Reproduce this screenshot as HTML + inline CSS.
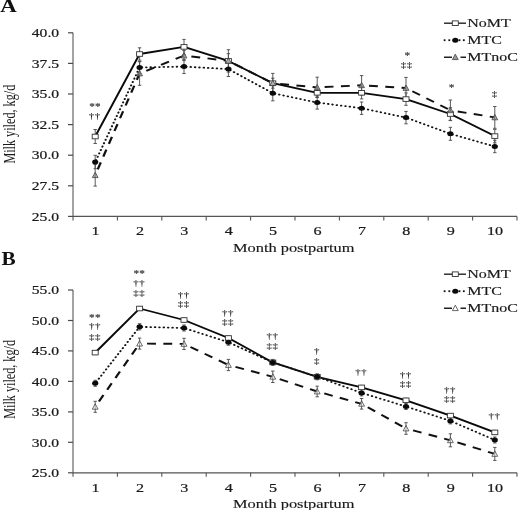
<!DOCTYPE html><html><head><meta charset="utf-8"><style>html,body{margin:0;padding:0;background:#fff;width:519px;height:510px;overflow:hidden;position:relative}</style></head><body><svg width="519" height="510" viewBox="0 0 519 510" style="filter:blur(0.35px);position:absolute;left:0;top:0;font-family:'Liberation Serif', serif">
<rect width="519" height="510" fill="#fff"/>
<text transform="translate(0.30,11.70) scale(1.25,1)" font-size="18.2" text-anchor="start" font-weight="bold" fill="#111">A</text>
<text transform="translate(15.0,124.2) scale(1.3,1) rotate(-90)" font-size="12.2" text-anchor="middle" fill="#1a1a1a">Milk yiled, kg/d</text>
<line x1="73.0" y1="32.8" x2="73.0" y2="216.4" stroke="#858585" stroke-width="1.5"/>
<line x1="68.0" y1="216.4" x2="73.0" y2="216.4" stroke="#4a4a4a" stroke-width="1.2"/>
<text transform="translate(59.10,220.60) scale(1.22,1)" font-size="12.8" text-anchor="end" font-weight="normal" fill="#1a1a1a" stroke="#1a1a1a" stroke-width="0.22">25.0</text>
<line x1="68.0" y1="185.8" x2="73.0" y2="185.8" stroke="#4a4a4a" stroke-width="1.2"/>
<text transform="translate(59.10,190.00) scale(1.22,1)" font-size="12.8" text-anchor="end" font-weight="normal" fill="#1a1a1a" stroke="#1a1a1a" stroke-width="0.22">27.5</text>
<line x1="68.0" y1="155.2" x2="73.0" y2="155.2" stroke="#4a4a4a" stroke-width="1.2"/>
<text transform="translate(59.10,159.40) scale(1.22,1)" font-size="12.8" text-anchor="end" font-weight="normal" fill="#1a1a1a" stroke="#1a1a1a" stroke-width="0.22">30.0</text>
<line x1="68.0" y1="124.6" x2="73.0" y2="124.6" stroke="#4a4a4a" stroke-width="1.2"/>
<text transform="translate(59.10,128.80) scale(1.22,1)" font-size="12.8" text-anchor="end" font-weight="normal" fill="#1a1a1a" stroke="#1a1a1a" stroke-width="0.22">32.5</text>
<line x1="68.0" y1="94.0" x2="73.0" y2="94.0" stroke="#4a4a4a" stroke-width="1.2"/>
<text transform="translate(59.10,98.20) scale(1.22,1)" font-size="12.8" text-anchor="end" font-weight="normal" fill="#1a1a1a" stroke="#1a1a1a" stroke-width="0.22">35.0</text>
<line x1="68.0" y1="63.4" x2="73.0" y2="63.4" stroke="#4a4a4a" stroke-width="1.2"/>
<text transform="translate(59.10,67.60) scale(1.22,1)" font-size="12.8" text-anchor="end" font-weight="normal" fill="#1a1a1a" stroke="#1a1a1a" stroke-width="0.22">37.5</text>
<line x1="68.0" y1="32.8" x2="73.0" y2="32.8" stroke="#4a4a4a" stroke-width="1.2"/>
<text transform="translate(59.10,37.00) scale(1.22,1)" font-size="12.8" text-anchor="end" font-weight="normal" fill="#1a1a1a" stroke="#1a1a1a" stroke-width="0.22">40.0</text>
<line x1="73.0" y1="216.4" x2="517.0" y2="216.4" stroke="#555" stroke-width="1.2"/>
<line x1="73.0" y1="216.4" x2="73.0" y2="220.4" stroke="#555" stroke-width="1.1"/>
<line x1="117.4" y1="216.4" x2="117.4" y2="220.4" stroke="#555" stroke-width="1.1"/>
<line x1="161.8" y1="216.4" x2="161.8" y2="220.4" stroke="#555" stroke-width="1.1"/>
<line x1="206.2" y1="216.4" x2="206.2" y2="220.4" stroke="#555" stroke-width="1.1"/>
<line x1="250.6" y1="216.4" x2="250.6" y2="220.4" stroke="#555" stroke-width="1.1"/>
<line x1="295.0" y1="216.4" x2="295.0" y2="220.4" stroke="#555" stroke-width="1.1"/>
<line x1="339.4" y1="216.4" x2="339.4" y2="220.4" stroke="#555" stroke-width="1.1"/>
<line x1="383.8" y1="216.4" x2="383.8" y2="220.4" stroke="#555" stroke-width="1.1"/>
<line x1="428.2" y1="216.4" x2="428.2" y2="220.4" stroke="#555" stroke-width="1.1"/>
<line x1="472.6" y1="216.4" x2="472.6" y2="220.4" stroke="#555" stroke-width="1.1"/>
<line x1="517.0" y1="216.4" x2="517.0" y2="220.4" stroke="#555" stroke-width="1.1"/>
<text transform="translate(95.50,235.40) scale(1.25,1)" font-size="12.9" text-anchor="middle" font-weight="normal" fill="#1a1a1a" stroke="#1a1a1a" stroke-width="0.22">1</text>
<text transform="translate(139.90,235.40) scale(1.25,1)" font-size="12.9" text-anchor="middle" font-weight="normal" fill="#1a1a1a" stroke="#1a1a1a" stroke-width="0.22">2</text>
<text transform="translate(184.30,235.40) scale(1.25,1)" font-size="12.9" text-anchor="middle" font-weight="normal" fill="#1a1a1a" stroke="#1a1a1a" stroke-width="0.22">3</text>
<text transform="translate(228.70,235.40) scale(1.25,1)" font-size="12.9" text-anchor="middle" font-weight="normal" fill="#1a1a1a" stroke="#1a1a1a" stroke-width="0.22">4</text>
<text transform="translate(273.10,235.40) scale(1.25,1)" font-size="12.9" text-anchor="middle" font-weight="normal" fill="#1a1a1a" stroke="#1a1a1a" stroke-width="0.22">5</text>
<text transform="translate(317.50,235.40) scale(1.25,1)" font-size="12.9" text-anchor="middle" font-weight="normal" fill="#1a1a1a" stroke="#1a1a1a" stroke-width="0.22">6</text>
<text transform="translate(361.90,235.40) scale(1.25,1)" font-size="12.9" text-anchor="middle" font-weight="normal" fill="#1a1a1a" stroke="#1a1a1a" stroke-width="0.22">7</text>
<text transform="translate(406.30,235.40) scale(1.25,1)" font-size="12.9" text-anchor="middle" font-weight="normal" fill="#1a1a1a" stroke="#1a1a1a" stroke-width="0.22">8</text>
<text transform="translate(450.70,235.40) scale(1.25,1)" font-size="12.9" text-anchor="middle" font-weight="normal" fill="#1a1a1a" stroke="#1a1a1a" stroke-width="0.22">9</text>
<text transform="translate(495.10,235.40) scale(1.25,1)" font-size="12.9" text-anchor="middle" font-weight="normal" fill="#1a1a1a" stroke="#1a1a1a" stroke-width="0.22">10</text>
<text transform="translate(293.70,251.90) scale(1.3,1)" font-size="12.6" text-anchor="middle" font-weight="normal" fill="#1a1a1a" stroke="#1a1a1a" stroke-width="0.15">Month postpartum</text>
<g transform="scale(1.2,1)">
<path d="M79.33,136.5 L116.33,54.0 L153.33,46.9 L190.33,60.9 L227.33,83.2 L264.33,92.8 L301.33,92.8 L338.33,99.1 L375.33,114.0 L412.33,136.1" fill="none" stroke="#0a0a0a" stroke-width="1.8" stroke-linejoin="round"/>
</g>
<g transform="scale(1.2,1)">
<path d="M79.33,162.0 L116.33,67.4" fill="none" stroke="#141414" stroke-width="1.8" stroke-dasharray="0.3 3.35" stroke-dashoffset="-1.8" stroke-linecap="round"/><path d="M116.33,67.4 L153.33,66.6" fill="none" stroke="#141414" stroke-width="1.8" stroke-dasharray="0.3 3.35" stroke-dashoffset="-1.8" stroke-linecap="round"/><path d="M153.33,66.6 L190.33,69.1" fill="none" stroke="#141414" stroke-width="1.8" stroke-dasharray="0.3 3.35" stroke-dashoffset="-1.8" stroke-linecap="round"/><path d="M190.33,69.1 L227.33,93.2" fill="none" stroke="#141414" stroke-width="1.8" stroke-dasharray="0.3 3.35" stroke-dashoffset="-1.8" stroke-linecap="round"/><path d="M227.33,93.2 L264.33,102.6" fill="none" stroke="#141414" stroke-width="1.8" stroke-dasharray="0.3 3.35" stroke-dashoffset="-1.8" stroke-linecap="round"/><path d="M264.33,102.6 L301.33,108.2" fill="none" stroke="#141414" stroke-width="1.8" stroke-dasharray="0.3 3.35" stroke-dashoffset="-1.8" stroke-linecap="round"/><path d="M301.33,108.2 L338.33,117.6" fill="none" stroke="#141414" stroke-width="1.8" stroke-dasharray="0.3 3.35" stroke-dashoffset="-1.8" stroke-linecap="round"/><path d="M338.33,117.6 L375.33,133.8" fill="none" stroke="#141414" stroke-width="1.8" stroke-dasharray="0.3 3.35" stroke-dashoffset="-1.8" stroke-linecap="round"/><path d="M375.33,133.8 L412.33,146.5" fill="none" stroke="#141414" stroke-width="1.8" stroke-dasharray="0.3 3.35" stroke-dashoffset="-1.8" stroke-linecap="round"/>
</g>
<g transform="scale(1.2,1)">
<path d="M79.33,175.2 L116.33,73.5" fill="none" stroke="#111" stroke-width="1.9" stroke-dasharray="7.4 6.2" stroke-dashoffset="7.4"/><path d="M116.33,73.5 L153.33,55.6" fill="none" stroke="#111" stroke-width="1.9" stroke-dasharray="7.4 6.2" stroke-dashoffset="7.4"/><path d="M153.33,55.6 L190.33,60.9" fill="none" stroke="#111" stroke-width="1.9" stroke-dasharray="7.4 6.2" stroke-dashoffset="7.4"/><path d="M190.33,60.9 L227.33,83.2" fill="none" stroke="#111" stroke-width="1.9" stroke-dasharray="7.4 6.2" stroke-dashoffset="7.4"/><path d="M227.33,83.2 L264.33,87.4" fill="none" stroke="#111" stroke-width="1.9" stroke-dasharray="7.4 6.2" stroke-dashoffset="7.4"/><path d="M264.33,87.4 L301.33,85.3" fill="none" stroke="#111" stroke-width="1.9" stroke-dasharray="7.4 6.2" stroke-dashoffset="7.4"/><path d="M301.33,85.3 L338.33,88.0" fill="none" stroke="#111" stroke-width="1.9" stroke-dasharray="7.4 6.2" stroke-dashoffset="7.4"/><path d="M338.33,88.0 L375.33,110.3" fill="none" stroke="#111" stroke-width="1.9" stroke-dasharray="7.4 6.2" stroke-dashoffset="7.4"/><path d="M375.33,110.3 L412.33,117.4" fill="none" stroke="#111" stroke-width="1.9" stroke-dasharray="7.4 6.2" stroke-dashoffset="7.4"/>
</g>
<path d="M95.2,129.5 V143.5 M93.5,129.5 H96.9 M93.5,143.5 H96.9" stroke="#505050" stroke-width="0.95" fill="none"/>
<path d="M139.6,47.8 V60.2 M137.9,47.8 H141.3 M137.9,60.2 H141.3" stroke="#505050" stroke-width="0.95" fill="none"/>
<path d="M184.0,39.4 V54.4 M182.3,39.4 H185.7 M182.3,54.4 H185.7" stroke="#505050" stroke-width="0.95" fill="none"/>
<path d="M228.4,53.7 V68.1 M226.7,53.7 H230.1 M226.7,68.1 H230.1" stroke="#505050" stroke-width="0.95" fill="none"/>
<path d="M272.8,78.2 V88.2 M271.1,78.2 H274.5 M271.1,88.2 H274.5" stroke="#505050" stroke-width="0.95" fill="none"/>
<path d="M317.2,88.2 V97.4 M315.5,88.2 H318.9 M315.5,97.4 H318.9" stroke="#505050" stroke-width="0.95" fill="none"/>
<path d="M361.6,86.7 V98.9 M359.9,86.7 H363.3 M359.9,98.9 H363.3" stroke="#505050" stroke-width="0.95" fill="none"/>
<path d="M406.0,92.9 V105.3 M404.3,92.9 H407.7 M404.3,105.3 H407.7" stroke="#505050" stroke-width="0.95" fill="none"/>
<path d="M450.4,107.7 V120.3 M448.7,107.7 H452.1 M448.7,120.3 H452.1" stroke="#505050" stroke-width="0.95" fill="none"/>
<path d="M494.8,129.4 V142.8 M493.1,129.4 H496.5 M493.1,142.8 H496.5" stroke="#505050" stroke-width="0.95" fill="none"/>
<path d="M95.2,155.3 V168.7 M93.5,155.3 H96.9 M93.5,168.7 H96.9" stroke="#505050" stroke-width="0.95" fill="none"/>
<path d="M139.6,61.4 V73.4 M137.9,61.4 H141.3 M137.9,73.4 H141.3" stroke="#505050" stroke-width="0.95" fill="none"/>
<path d="M184.0,59.6 V73.6 M182.3,59.6 H185.7 M182.3,73.6 H185.7" stroke="#505050" stroke-width="0.95" fill="none"/>
<path d="M228.4,61.7 V76.5 M226.7,61.7 H230.1 M226.7,76.5 H230.1" stroke="#505050" stroke-width="0.95" fill="none"/>
<path d="M272.8,85.6 V100.8 M271.1,85.6 H274.5 M271.1,100.8 H274.5" stroke="#505050" stroke-width="0.95" fill="none"/>
<path d="M317.2,96.1 V109.1 M315.5,96.1 H318.9 M315.5,109.1 H318.9" stroke="#505050" stroke-width="0.95" fill="none"/>
<path d="M361.6,102.0 V114.4 M359.9,102.0 H363.3 M359.9,114.4 H363.3" stroke="#505050" stroke-width="0.95" fill="none"/>
<path d="M406.0,111.4 V123.8 M404.3,111.4 H407.7 M404.3,123.8 H407.7" stroke="#505050" stroke-width="0.95" fill="none"/>
<path d="M450.4,127.3 V140.3 M448.7,127.3 H452.1 M448.7,140.3 H452.1" stroke="#505050" stroke-width="0.95" fill="none"/>
<path d="M494.8,140.3 V152.7 M493.1,140.3 H496.5 M493.1,152.7 H496.5" stroke="#505050" stroke-width="0.95" fill="none"/>
<path d="M95.2,164.3 V186.1 M93.5,164.3 H96.9 M93.5,186.1 H96.9" stroke="#505050" stroke-width="0.95" fill="none"/>
<path d="M139.6,61.7 V85.3 M137.9,61.7 H141.3 M137.9,85.3 H141.3" stroke="#505050" stroke-width="0.95" fill="none"/>
<path d="M184.0,50.6 V60.6 M182.3,50.6 H185.7 M182.3,60.6 H185.7" stroke="#505050" stroke-width="0.95" fill="none"/>
<path d="M228.4,49.7 V72.1 M226.7,49.7 H230.1 M226.7,72.1 H230.1" stroke="#505050" stroke-width="0.95" fill="none"/>
<path d="M272.8,73.4 V93.0 M271.1,73.4 H274.5 M271.1,93.0 H274.5" stroke="#505050" stroke-width="0.95" fill="none"/>
<path d="M317.2,77.2 V97.6 M315.5,77.2 H318.9 M315.5,97.6 H318.9" stroke="#505050" stroke-width="0.95" fill="none"/>
<path d="M361.6,75.6 V95.0 M359.9,75.6 H363.3 M359.9,95.0 H363.3" stroke="#505050" stroke-width="0.95" fill="none"/>
<path d="M406.0,77.4 V98.6 M404.3,77.4 H407.7 M404.3,98.6 H407.7" stroke="#505050" stroke-width="0.95" fill="none"/>
<path d="M450.4,100.0 V120.6 M448.7,100.0 H452.1 M448.7,120.6 H452.1" stroke="#505050" stroke-width="0.95" fill="none"/>
<path d="M494.8,106.5 V128.3 M493.1,106.5 H496.5 M493.1,128.3 H496.5" stroke="#505050" stroke-width="0.95" fill="none"/>
<rect x="92.2" y="134.2" width="6.0" height="4.6" fill="#fff" stroke="#333" stroke-width="0.9"/>
<rect x="136.6" y="51.7" width="6.0" height="4.6" fill="#fff" stroke="#333" stroke-width="0.9"/>
<rect x="181.0" y="44.6" width="6.0" height="4.6" fill="#fff" stroke="#333" stroke-width="0.9"/>
<rect x="225.4" y="58.6" width="6.0" height="4.6" fill="#fff" stroke="#333" stroke-width="0.9"/>
<rect x="269.8" y="80.9" width="6.0" height="4.6" fill="#fff" stroke="#333" stroke-width="0.9"/>
<rect x="314.2" y="90.5" width="6.0" height="4.6" fill="#fff" stroke="#333" stroke-width="0.9"/>
<rect x="358.6" y="90.5" width="6.0" height="4.6" fill="#fff" stroke="#333" stroke-width="0.9"/>
<rect x="403.0" y="96.8" width="6.0" height="4.6" fill="#fff" stroke="#333" stroke-width="0.9"/>
<rect x="447.4" y="111.7" width="6.0" height="4.6" fill="#fff" stroke="#333" stroke-width="0.9"/>
<rect x="491.8" y="133.8" width="6.0" height="4.6" fill="#fff" stroke="#333" stroke-width="0.9"/>
<ellipse cx="95.2" cy="162.0" rx="3.1" ry="2.5" fill="#0a0a0a"/>
<ellipse cx="139.6" cy="67.4" rx="3.1" ry="2.5" fill="#0a0a0a"/>
<ellipse cx="184.0" cy="66.6" rx="3.1" ry="2.5" fill="#0a0a0a"/>
<ellipse cx="228.4" cy="69.1" rx="3.1" ry="2.5" fill="#0a0a0a"/>
<ellipse cx="272.8" cy="93.2" rx="3.1" ry="2.5" fill="#0a0a0a"/>
<ellipse cx="317.2" cy="102.6" rx="3.1" ry="2.5" fill="#0a0a0a"/>
<ellipse cx="361.6" cy="108.2" rx="3.1" ry="2.5" fill="#0a0a0a"/>
<ellipse cx="406.0" cy="117.6" rx="3.1" ry="2.5" fill="#0a0a0a"/>
<ellipse cx="450.4" cy="133.8" rx="3.1" ry="2.5" fill="#0a0a0a"/>
<ellipse cx="494.8" cy="146.5" rx="3.1" ry="2.5" fill="#0a0a0a"/>
<path d="M95.2,172.2 L98.1,177.6 L92.3,177.6 Z" fill="rgba(140,140,140,0.7)" stroke="#444" stroke-width="0.8"/>
<path d="M139.6,70.5 L142.5,75.9 L136.7,75.9 Z" fill="rgba(140,140,140,0.7)" stroke="#444" stroke-width="0.8"/>
<path d="M184.0,52.6 L186.9,58.0 L181.1,58.0 Z" fill="rgba(140,140,140,0.7)" stroke="#444" stroke-width="0.8"/>
<path d="M228.4,57.9 L231.3,63.3 L225.5,63.3 Z" fill="rgba(140,140,140,0.7)" stroke="#444" stroke-width="0.8"/>
<path d="M272.8,80.2 L275.7,85.6 L269.9,85.6 Z" fill="rgba(140,140,140,0.7)" stroke="#444" stroke-width="0.8"/>
<path d="M317.2,84.4 L320.1,89.8 L314.3,89.8 Z" fill="rgba(140,140,140,0.7)" stroke="#444" stroke-width="0.8"/>
<path d="M361.6,82.3 L364.5,87.7 L358.7,87.7 Z" fill="rgba(140,140,140,0.7)" stroke="#444" stroke-width="0.8"/>
<path d="M406.0,85.0 L408.9,90.4 L403.1,90.4 Z" fill="rgba(140,140,140,0.7)" stroke="#444" stroke-width="0.8"/>
<path d="M450.4,107.3 L453.3,112.7 L447.5,112.7 Z" fill="rgba(140,140,140,0.7)" stroke="#444" stroke-width="0.8"/>
<path d="M494.8,114.4 L497.7,119.8 L491.9,119.8 Z" fill="rgba(140,140,140,0.7)" stroke="#444" stroke-width="0.8"/>
<line x1="444" y1="23.2" x2="466" y2="23.2" stroke="#222" stroke-width="1.4"/>
<rect x="452.3" y="20.9" width="6.0" height="4.6" fill="#fff" stroke="#333" stroke-width="0.9"/>
<text transform="translate(467.30,27.40) scale(1.3,1)" font-size="12.3" text-anchor="start" font-weight="normal" fill="#1a1a1a" stroke="#1a1a1a" stroke-width="0.15">NoMT</text>
<rect x="443.7" y="39.3" width="1.8" height="1.8" fill="#111"/>
<rect x="448.4" y="39.3" width="1.8" height="1.8" fill="#111"/>
<rect x="458.6" y="39.3" width="1.8" height="1.8" fill="#111"/>
<rect x="462.9" y="39.3" width="1.8" height="1.8" fill="#111"/>
<ellipse cx="455.3" cy="40.2" rx="3.1" ry="2.5" fill="#0a0a0a"/>
<text transform="translate(467.30,44.40) scale(1.3,1)" font-size="12.3" text-anchor="start" font-weight="normal" fill="#1a1a1a" stroke="#1a1a1a" stroke-width="0.15">MTC</text>
<path d="M444,57.2 H452 M460.5,57.2 H466" stroke="#222" stroke-width="1.4"/>
<path d="M455.3,54.2 L458.2,59.6 L452.4,59.6 Z" fill="#9a9a9a" stroke="#444" stroke-width="0.8"/>
<text transform="translate(467.30,61.40) scale(1.3,1)" font-size="12.3" text-anchor="start" font-weight="normal" fill="#1a1a1a" stroke="#1a1a1a" stroke-width="0.15">MTnoC</text>
<text transform="translate(91.95,109.80) scale(1.15,1)" font-size="9.8" text-anchor="middle" font-weight="normal" fill="#333" stroke="#333" stroke-width="0.15">*</text>
<text transform="translate(97.85,109.80) scale(1.15,1)" font-size="9.8" text-anchor="middle" font-weight="normal" fill="#333" stroke="#333" stroke-width="0.15">*</text>
<text transform="translate(91.50,118.70) scale(1.18,1)" font-size="9.2" text-anchor="middle" font-weight="normal" fill="#111" stroke="#111" stroke-width="0.05">†</text>
<text transform="translate(97.50,118.70) scale(1.18,1)" font-size="9.2" text-anchor="middle" font-weight="normal" fill="#111" stroke="#111" stroke-width="0.05">†</text>
<text transform="translate(407.20,59.00) scale(1.15,1)" font-size="9.8" text-anchor="middle" font-weight="normal" fill="#333" stroke="#333" stroke-width="0.15">*</text>
<text transform="translate(403.50,67.60) scale(1.18,1)" font-size="9.2" text-anchor="middle" font-weight="normal" fill="#111" stroke="#111" stroke-width="0.05">‡</text>
<text transform="translate(409.50,67.60) scale(1.18,1)" font-size="9.2" text-anchor="middle" font-weight="normal" fill="#111" stroke="#111" stroke-width="0.05">‡</text>
<text transform="translate(451.60,90.80) scale(1.15,1)" font-size="9.8" text-anchor="middle" font-weight="normal" fill="#333" stroke="#333" stroke-width="0.15">*</text>
<text transform="translate(494.50,96.90) scale(1.18,1)" font-size="9.2" text-anchor="middle" font-weight="normal" fill="#111" stroke="#111" stroke-width="0.05">‡</text>
<text transform="translate(1.60,264.80) scale(1.18,1)" font-size="18.0" text-anchor="start" font-weight="bold" fill="#111">B</text>
<text transform="translate(15.0,379.4) scale(1.3,1) rotate(-90)" font-size="12.2" text-anchor="middle" fill="#1a1a1a">Milk yiled, kg/d</text>
<line x1="73.0" y1="290.0" x2="73.0" y2="472.8" stroke="#858585" stroke-width="1.5"/>
<line x1="68.0" y1="472.8" x2="73.0" y2="472.8" stroke="#4a4a4a" stroke-width="1.2"/>
<text transform="translate(59.10,477.00) scale(1.22,1)" font-size="12.8" text-anchor="end" font-weight="normal" fill="#1a1a1a" stroke="#1a1a1a" stroke-width="0.22">25.0</text>
<line x1="68.0" y1="442.3" x2="73.0" y2="442.3" stroke="#4a4a4a" stroke-width="1.2"/>
<text transform="translate(59.10,446.53) scale(1.22,1)" font-size="12.8" text-anchor="end" font-weight="normal" fill="#1a1a1a" stroke="#1a1a1a" stroke-width="0.22">30.0</text>
<line x1="68.0" y1="411.9" x2="73.0" y2="411.9" stroke="#4a4a4a" stroke-width="1.2"/>
<text transform="translate(59.10,416.07) scale(1.22,1)" font-size="12.8" text-anchor="end" font-weight="normal" fill="#1a1a1a" stroke="#1a1a1a" stroke-width="0.22">35.0</text>
<line x1="68.0" y1="381.4" x2="73.0" y2="381.4" stroke="#4a4a4a" stroke-width="1.2"/>
<text transform="translate(59.10,385.60) scale(1.22,1)" font-size="12.8" text-anchor="end" font-weight="normal" fill="#1a1a1a" stroke="#1a1a1a" stroke-width="0.22">40.0</text>
<line x1="68.0" y1="350.9" x2="73.0" y2="350.9" stroke="#4a4a4a" stroke-width="1.2"/>
<text transform="translate(59.10,355.13) scale(1.22,1)" font-size="12.8" text-anchor="end" font-weight="normal" fill="#1a1a1a" stroke="#1a1a1a" stroke-width="0.22">45.0</text>
<line x1="68.0" y1="320.5" x2="73.0" y2="320.5" stroke="#4a4a4a" stroke-width="1.2"/>
<text transform="translate(59.10,324.67) scale(1.22,1)" font-size="12.8" text-anchor="end" font-weight="normal" fill="#1a1a1a" stroke="#1a1a1a" stroke-width="0.22">50.0</text>
<line x1="68.0" y1="290.0" x2="73.0" y2="290.0" stroke="#4a4a4a" stroke-width="1.2"/>
<text transform="translate(59.10,294.20) scale(1.22,1)" font-size="12.8" text-anchor="end" font-weight="normal" fill="#1a1a1a" stroke="#1a1a1a" stroke-width="0.22">55.0</text>
<line x1="73.0" y1="472.8" x2="517.0" y2="472.8" stroke="#555" stroke-width="1.2"/>
<line x1="73.0" y1="472.8" x2="73.0" y2="476.8" stroke="#555" stroke-width="1.1"/>
<line x1="117.4" y1="472.8" x2="117.4" y2="476.8" stroke="#555" stroke-width="1.1"/>
<line x1="161.8" y1="472.8" x2="161.8" y2="476.8" stroke="#555" stroke-width="1.1"/>
<line x1="206.2" y1="472.8" x2="206.2" y2="476.8" stroke="#555" stroke-width="1.1"/>
<line x1="250.6" y1="472.8" x2="250.6" y2="476.8" stroke="#555" stroke-width="1.1"/>
<line x1="295.0" y1="472.8" x2="295.0" y2="476.8" stroke="#555" stroke-width="1.1"/>
<line x1="339.4" y1="472.8" x2="339.4" y2="476.8" stroke="#555" stroke-width="1.1"/>
<line x1="383.8" y1="472.8" x2="383.8" y2="476.8" stroke="#555" stroke-width="1.1"/>
<line x1="428.2" y1="472.8" x2="428.2" y2="476.8" stroke="#555" stroke-width="1.1"/>
<line x1="472.6" y1="472.8" x2="472.6" y2="476.8" stroke="#555" stroke-width="1.1"/>
<line x1="517.0" y1="472.8" x2="517.0" y2="476.8" stroke="#555" stroke-width="1.1"/>
<text transform="translate(95.50,491.80) scale(1.25,1)" font-size="12.9" text-anchor="middle" font-weight="normal" fill="#1a1a1a" stroke="#1a1a1a" stroke-width="0.22">1</text>
<text transform="translate(139.90,491.80) scale(1.25,1)" font-size="12.9" text-anchor="middle" font-weight="normal" fill="#1a1a1a" stroke="#1a1a1a" stroke-width="0.22">2</text>
<text transform="translate(184.30,491.80) scale(1.25,1)" font-size="12.9" text-anchor="middle" font-weight="normal" fill="#1a1a1a" stroke="#1a1a1a" stroke-width="0.22">3</text>
<text transform="translate(228.70,491.80) scale(1.25,1)" font-size="12.9" text-anchor="middle" font-weight="normal" fill="#1a1a1a" stroke="#1a1a1a" stroke-width="0.22">4</text>
<text transform="translate(273.10,491.80) scale(1.25,1)" font-size="12.9" text-anchor="middle" font-weight="normal" fill="#1a1a1a" stroke="#1a1a1a" stroke-width="0.22">5</text>
<text transform="translate(317.50,491.80) scale(1.25,1)" font-size="12.9" text-anchor="middle" font-weight="normal" fill="#1a1a1a" stroke="#1a1a1a" stroke-width="0.22">6</text>
<text transform="translate(361.90,491.80) scale(1.25,1)" font-size="12.9" text-anchor="middle" font-weight="normal" fill="#1a1a1a" stroke="#1a1a1a" stroke-width="0.22">7</text>
<text transform="translate(406.30,491.80) scale(1.25,1)" font-size="12.9" text-anchor="middle" font-weight="normal" fill="#1a1a1a" stroke="#1a1a1a" stroke-width="0.22">8</text>
<text transform="translate(450.70,491.80) scale(1.25,1)" font-size="12.9" text-anchor="middle" font-weight="normal" fill="#1a1a1a" stroke="#1a1a1a" stroke-width="0.22">9</text>
<text transform="translate(495.10,491.80) scale(1.25,1)" font-size="12.9" text-anchor="middle" font-weight="normal" fill="#1a1a1a" stroke="#1a1a1a" stroke-width="0.22">10</text>
<text transform="translate(293.70,508.30) scale(1.3,1)" font-size="12.6" text-anchor="middle" font-weight="normal" fill="#1a1a1a" stroke="#1a1a1a" stroke-width="0.15">Month postpartum</text>
<g transform="scale(1.2,1)">
<path d="M79.33,352.6 L116.33,308.5 L153.33,320.0 L190.33,338.0 L227.33,362.4 L264.33,376.8 L301.33,387.4 L338.33,400.3 L375.33,415.6 L412.33,432.4" fill="none" stroke="#0a0a0a" stroke-width="1.8" stroke-linejoin="round"/>
</g>
<g transform="scale(1.2,1)">
<path d="M79.33,383.3 L116.33,326.8" fill="none" stroke="#141414" stroke-width="1.8" stroke-dasharray="0.3 3.35" stroke-dashoffset="-1.8" stroke-linecap="round"/><path d="M116.33,326.8 L153.33,328.0" fill="none" stroke="#141414" stroke-width="1.8" stroke-dasharray="0.3 3.35" stroke-dashoffset="-1.8" stroke-linecap="round"/><path d="M153.33,328.0 L190.33,342.2" fill="none" stroke="#141414" stroke-width="1.8" stroke-dasharray="0.3 3.35" stroke-dashoffset="-1.8" stroke-linecap="round"/><path d="M190.33,342.2 L227.33,362.4" fill="none" stroke="#141414" stroke-width="1.8" stroke-dasharray="0.3 3.35" stroke-dashoffset="-1.8" stroke-linecap="round"/><path d="M227.33,362.4 L264.33,376.8" fill="none" stroke="#141414" stroke-width="1.8" stroke-dasharray="0.3 3.35" stroke-dashoffset="-1.8" stroke-linecap="round"/><path d="M264.33,376.8 L301.33,392.9" fill="none" stroke="#141414" stroke-width="1.8" stroke-dasharray="0.3 3.35" stroke-dashoffset="-1.8" stroke-linecap="round"/><path d="M301.33,392.9 L338.33,406.5" fill="none" stroke="#141414" stroke-width="1.8" stroke-dasharray="0.3 3.35" stroke-dashoffset="-1.8" stroke-linecap="round"/><path d="M338.33,406.5 L375.33,420.9" fill="none" stroke="#141414" stroke-width="1.8" stroke-dasharray="0.3 3.35" stroke-dashoffset="-1.8" stroke-linecap="round"/><path d="M375.33,420.9 L412.33,440.0" fill="none" stroke="#141414" stroke-width="1.8" stroke-dasharray="0.3 3.35" stroke-dashoffset="-1.8" stroke-linecap="round"/>
</g>
<g transform="scale(1.2,1)">
<path d="M79.33,406.8 L116.33,343.6" fill="none" stroke="#111" stroke-width="1.9" stroke-dasharray="7.4 6.2" stroke-dashoffset="7.4"/><path d="M116.33,343.6 L153.33,343.9" fill="none" stroke="#111" stroke-width="1.9" stroke-dasharray="7.4 6.2" stroke-dashoffset="7.4"/><path d="M153.33,343.9 L190.33,365.0" fill="none" stroke="#111" stroke-width="1.9" stroke-dasharray="7.4 6.2" stroke-dashoffset="7.4"/><path d="M190.33,365.0 L227.33,376.8" fill="none" stroke="#111" stroke-width="1.9" stroke-dasharray="7.4 6.2" stroke-dashoffset="7.4"/><path d="M227.33,376.8 L264.33,391.5" fill="none" stroke="#111" stroke-width="1.9" stroke-dasharray="7.4 6.2" stroke-dashoffset="7.4"/><path d="M264.33,391.5 L301.33,403.8" fill="none" stroke="#111" stroke-width="1.9" stroke-dasharray="7.4 6.2" stroke-dashoffset="7.4"/><path d="M301.33,403.8 L338.33,428.5" fill="none" stroke="#111" stroke-width="1.9" stroke-dasharray="7.4 6.2" stroke-dashoffset="7.4"/><path d="M338.33,428.5 L375.33,440.3" fill="none" stroke="#111" stroke-width="1.9" stroke-dasharray="7.4 6.2" stroke-dashoffset="7.4"/><path d="M375.33,440.3 L412.33,453.9" fill="none" stroke="#111" stroke-width="1.9" stroke-dasharray="7.4 6.2" stroke-dashoffset="7.4"/>
</g>
<path d="M95.2,350.6 V354.6 M93.5,350.6 H96.9 M93.5,354.6 H96.9" stroke="#505050" stroke-width="0.95" fill="none"/>
<path d="M139.6,306.5 V310.5 M137.9,306.5 H141.3 M137.9,310.5 H141.3" stroke="#505050" stroke-width="0.95" fill="none"/>
<path d="M184.0,318.0 V322.0 M182.3,318.0 H185.7 M182.3,322.0 H185.7" stroke="#505050" stroke-width="0.95" fill="none"/>
<path d="M228.4,336.0 V340.0 M226.7,336.0 H230.1 M226.7,340.0 H230.1" stroke="#505050" stroke-width="0.95" fill="none"/>
<path d="M272.8,360.4 V364.4 M271.1,360.4 H274.5 M271.1,364.4 H274.5" stroke="#505050" stroke-width="0.95" fill="none"/>
<path d="M317.2,374.8 V378.8 M315.5,374.8 H318.9 M315.5,378.8 H318.9" stroke="#505050" stroke-width="0.95" fill="none"/>
<path d="M361.6,385.4 V389.4 M359.9,385.4 H363.3 M359.9,389.4 H363.3" stroke="#505050" stroke-width="0.95" fill="none"/>
<path d="M406.0,398.3 V402.3 M404.3,398.3 H407.7 M404.3,402.3 H407.7" stroke="#505050" stroke-width="0.95" fill="none"/>
<path d="M450.4,413.6 V417.6 M448.7,413.6 H452.1 M448.7,417.6 H452.1" stroke="#505050" stroke-width="0.95" fill="none"/>
<path d="M494.8,430.4 V434.4 M493.1,430.4 H496.5 M493.1,434.4 H496.5" stroke="#505050" stroke-width="0.95" fill="none"/>
<path d="M95.2,380.3 V386.3 M93.5,380.3 H96.9 M93.5,386.3 H96.9" stroke="#505050" stroke-width="0.95" fill="none"/>
<path d="M139.6,323.7 V329.9 M137.9,323.7 H141.3 M137.9,329.9 H141.3" stroke="#505050" stroke-width="0.95" fill="none"/>
<path d="M184.0,325.0 V331.0 M182.3,325.0 H185.7 M182.3,331.0 H185.7" stroke="#505050" stroke-width="0.95" fill="none"/>
<path d="M228.4,339.2 V345.2 M226.7,339.2 H230.1 M226.7,345.2 H230.1" stroke="#505050" stroke-width="0.95" fill="none"/>
<path d="M272.8,359.4 V365.4 M271.1,359.4 H274.5 M271.1,365.4 H274.5" stroke="#505050" stroke-width="0.95" fill="none"/>
<path d="M317.2,373.8 V379.8 M315.5,373.8 H318.9 M315.5,379.8 H318.9" stroke="#505050" stroke-width="0.95" fill="none"/>
<path d="M361.6,389.9 V395.9 M359.9,389.9 H363.3 M359.9,395.9 H363.3" stroke="#505050" stroke-width="0.95" fill="none"/>
<path d="M406.0,403.5 V409.5 M404.3,403.5 H407.7 M404.3,409.5 H407.7" stroke="#505050" stroke-width="0.95" fill="none"/>
<path d="M450.4,417.9 V423.9 M448.7,417.9 H452.1 M448.7,423.9 H452.1" stroke="#505050" stroke-width="0.95" fill="none"/>
<path d="M494.8,437.0 V443.0 M493.1,437.0 H496.5 M493.1,443.0 H496.5" stroke="#505050" stroke-width="0.95" fill="none"/>
<path d="M95.2,401.3 V412.3 M93.5,401.3 H96.9 M93.5,412.3 H96.9" stroke="#505050" stroke-width="0.95" fill="none"/>
<path d="M139.6,338.1 V349.1 M137.9,338.1 H141.3 M137.9,349.1 H141.3" stroke="#505050" stroke-width="0.95" fill="none"/>
<path d="M184.0,338.3 V349.5 M182.3,338.3 H185.7 M182.3,349.5 H185.7" stroke="#505050" stroke-width="0.95" fill="none"/>
<path d="M228.4,359.4 V370.6 M226.7,359.4 H230.1 M226.7,370.6 H230.1" stroke="#505050" stroke-width="0.95" fill="none"/>
<path d="M272.8,371.1 V382.5 M271.1,371.1 H274.5 M271.1,382.5 H274.5" stroke="#505050" stroke-width="0.95" fill="none"/>
<path d="M317.2,386.2 V396.8 M315.5,386.2 H318.9 M315.5,396.8 H318.9" stroke="#505050" stroke-width="0.95" fill="none"/>
<path d="M361.6,398.5 V409.1 M359.9,398.5 H363.3 M359.9,409.1 H363.3" stroke="#505050" stroke-width="0.95" fill="none"/>
<path d="M406.0,422.7 V434.3 M404.3,422.7 H407.7 M404.3,434.3 H407.7" stroke="#505050" stroke-width="0.95" fill="none"/>
<path d="M450.4,433.8 V446.8 M448.7,433.8 H452.1 M448.7,446.8 H452.1" stroke="#505050" stroke-width="0.95" fill="none"/>
<path d="M494.8,447.4 V460.4 M493.1,447.4 H496.5 M493.1,460.4 H496.5" stroke="#505050" stroke-width="0.95" fill="none"/>
<rect x="92.2" y="350.3" width="6.0" height="4.6" fill="#fff" stroke="#333" stroke-width="0.9"/>
<rect x="136.6" y="306.2" width="6.0" height="4.6" fill="#fff" stroke="#333" stroke-width="0.9"/>
<rect x="181.0" y="317.7" width="6.0" height="4.6" fill="#fff" stroke="#333" stroke-width="0.9"/>
<rect x="225.4" y="335.7" width="6.0" height="4.6" fill="#fff" stroke="#333" stroke-width="0.9"/>
<rect x="269.8" y="360.1" width="6.0" height="4.6" fill="#fff" stroke="#333" stroke-width="0.9"/>
<rect x="314.2" y="374.5" width="6.0" height="4.6" fill="#fff" stroke="#333" stroke-width="0.9"/>
<rect x="358.6" y="385.1" width="6.0" height="4.6" fill="#fff" stroke="#333" stroke-width="0.9"/>
<rect x="403.0" y="398.0" width="6.0" height="4.6" fill="#fff" stroke="#333" stroke-width="0.9"/>
<rect x="447.4" y="413.3" width="6.0" height="4.6" fill="#fff" stroke="#333" stroke-width="0.9"/>
<rect x="491.8" y="430.1" width="6.0" height="4.6" fill="#fff" stroke="#333" stroke-width="0.9"/>
<ellipse cx="95.2" cy="383.3" rx="3.1" ry="2.5" fill="#0a0a0a"/>
<ellipse cx="139.6" cy="326.8" rx="3.1" ry="2.5" fill="#0a0a0a"/>
<ellipse cx="184.0" cy="328.0" rx="3.1" ry="2.5" fill="#0a0a0a"/>
<ellipse cx="228.4" cy="342.2" rx="3.1" ry="2.5" fill="#0a0a0a"/>
<ellipse cx="272.8" cy="362.4" rx="3.1" ry="2.5" fill="#0a0a0a"/>
<ellipse cx="317.2" cy="376.8" rx="3.1" ry="2.5" fill="#0a0a0a"/>
<ellipse cx="361.6" cy="392.9" rx="3.1" ry="2.5" fill="#0a0a0a"/>
<ellipse cx="406.0" cy="406.5" rx="3.1" ry="2.5" fill="#0a0a0a"/>
<ellipse cx="450.4" cy="420.9" rx="3.1" ry="2.5" fill="#0a0a0a"/>
<ellipse cx="494.8" cy="440.0" rx="3.1" ry="2.5" fill="#0a0a0a"/>
<path d="M95.2,403.8 L98.1,409.2 L92.3,409.2 Z" fill="rgba(255,255,255,0.45)" stroke="#444" stroke-width="0.8"/>
<path d="M139.6,340.6 L142.5,346.0 L136.7,346.0 Z" fill="rgba(255,255,255,0.45)" stroke="#444" stroke-width="0.8"/>
<path d="M184.0,340.9 L186.9,346.3 L181.1,346.3 Z" fill="rgba(255,255,255,0.45)" stroke="#444" stroke-width="0.8"/>
<path d="M228.4,362.0 L231.3,367.4 L225.5,367.4 Z" fill="rgba(255,255,255,0.45)" stroke="#444" stroke-width="0.8"/>
<path d="M272.8,373.8 L275.7,379.2 L269.9,379.2 Z" fill="rgba(255,255,255,0.45)" stroke="#444" stroke-width="0.8"/>
<path d="M317.2,388.5 L320.1,393.9 L314.3,393.9 Z" fill="rgba(255,255,255,0.45)" stroke="#444" stroke-width="0.8"/>
<path d="M361.6,400.8 L364.5,406.2 L358.7,406.2 Z" fill="rgba(255,255,255,0.45)" stroke="#444" stroke-width="0.8"/>
<path d="M406.0,425.5 L408.9,430.9 L403.1,430.9 Z" fill="rgba(255,255,255,0.45)" stroke="#444" stroke-width="0.8"/>
<path d="M450.4,437.3 L453.3,442.7 L447.5,442.7 Z" fill="rgba(255,255,255,0.45)" stroke="#444" stroke-width="0.8"/>
<path d="M494.8,450.9 L497.7,456.3 L491.9,456.3 Z" fill="rgba(255,255,255,0.45)" stroke="#444" stroke-width="0.8"/>
<line x1="444" y1="274.2" x2="466" y2="274.2" stroke="#222" stroke-width="1.4"/>
<rect x="452.3" y="271.9" width="6.0" height="4.6" fill="#fff" stroke="#333" stroke-width="0.9"/>
<text transform="translate(467.30,278.40) scale(1.3,1)" font-size="12.3" text-anchor="start" font-weight="normal" fill="#1a1a1a" stroke="#1a1a1a" stroke-width="0.15">NoMT</text>
<rect x="443.7" y="290.3" width="1.8" height="1.8" fill="#111"/>
<rect x="448.4" y="290.3" width="1.8" height="1.8" fill="#111"/>
<rect x="458.6" y="290.3" width="1.8" height="1.8" fill="#111"/>
<rect x="462.9" y="290.3" width="1.8" height="1.8" fill="#111"/>
<ellipse cx="455.3" cy="291.2" rx="3.1" ry="2.5" fill="#0a0a0a"/>
<text transform="translate(467.30,295.40) scale(1.3,1)" font-size="12.3" text-anchor="start" font-weight="normal" fill="#1a1a1a" stroke="#1a1a1a" stroke-width="0.15">MTC</text>
<path d="M444,308.2 H452 M460.5,308.2 H466" stroke="#222" stroke-width="1.4"/>
<path d="M455.3,305.2 L458.2,310.6 L452.4,310.6 Z" fill="#fff" stroke="#444" stroke-width="0.8"/>
<text transform="translate(467.30,312.40) scale(1.3,1)" font-size="12.3" text-anchor="start" font-weight="normal" fill="#1a1a1a" stroke="#1a1a1a" stroke-width="0.15">MTnoC</text>
<text transform="translate(91.85,321.40) scale(1.15,1)" font-size="9.8" text-anchor="middle" font-weight="normal" fill="#333" stroke="#333" stroke-width="0.15">*</text>
<text transform="translate(97.75,321.40) scale(1.15,1)" font-size="9.8" text-anchor="middle" font-weight="normal" fill="#333" stroke="#333" stroke-width="0.15">*</text>
<text transform="translate(91.60,329.30) scale(1.18,1)" font-size="9.2" text-anchor="middle" font-weight="normal" fill="#111" stroke="#111" stroke-width="0.05">†</text>
<text transform="translate(97.60,329.30) scale(1.18,1)" font-size="9.2" text-anchor="middle" font-weight="normal" fill="#111" stroke="#111" stroke-width="0.05">†</text>
<text transform="translate(91.60,339.90) scale(1.18,1)" font-size="9.2" text-anchor="middle" font-weight="normal" fill="#111" stroke="#111" stroke-width="0.05">‡</text>
<text transform="translate(97.60,339.90) scale(1.18,1)" font-size="9.2" text-anchor="middle" font-weight="normal" fill="#111" stroke="#111" stroke-width="0.05">‡</text>
<text transform="translate(136.25,277.30) scale(1.15,1)" font-size="9.8" text-anchor="middle" font-weight="normal" fill="#333" stroke="#333" stroke-width="0.15">*</text>
<text transform="translate(142.15,277.30) scale(1.15,1)" font-size="9.8" text-anchor="middle" font-weight="normal" fill="#333" stroke="#333" stroke-width="0.15">*</text>
<text transform="translate(136.00,286.10) scale(1.18,1)" font-size="9.2" text-anchor="middle" font-weight="normal" fill="#111" stroke="#111" stroke-width="0.05">†</text>
<text transform="translate(142.00,286.10) scale(1.18,1)" font-size="9.2" text-anchor="middle" font-weight="normal" fill="#111" stroke="#111" stroke-width="0.05">†</text>
<text transform="translate(136.00,295.80) scale(1.18,1)" font-size="9.2" text-anchor="middle" font-weight="normal" fill="#111" stroke="#111" stroke-width="0.05">‡</text>
<text transform="translate(142.00,295.80) scale(1.18,1)" font-size="9.2" text-anchor="middle" font-weight="normal" fill="#111" stroke="#111" stroke-width="0.05">‡</text>
<text transform="translate(180.40,297.80) scale(1.18,1)" font-size="9.2" text-anchor="middle" font-weight="normal" fill="#111" stroke="#111" stroke-width="0.05">†</text>
<text transform="translate(186.40,297.80) scale(1.18,1)" font-size="9.2" text-anchor="middle" font-weight="normal" fill="#111" stroke="#111" stroke-width="0.05">†</text>
<text transform="translate(180.40,307.30) scale(1.18,1)" font-size="9.2" text-anchor="middle" font-weight="normal" fill="#111" stroke="#111" stroke-width="0.05">‡</text>
<text transform="translate(186.40,307.30) scale(1.18,1)" font-size="9.2" text-anchor="middle" font-weight="normal" fill="#111" stroke="#111" stroke-width="0.05">‡</text>
<text transform="translate(224.80,315.50) scale(1.18,1)" font-size="9.2" text-anchor="middle" font-weight="normal" fill="#111" stroke="#111" stroke-width="0.05">†</text>
<text transform="translate(230.80,315.50) scale(1.18,1)" font-size="9.2" text-anchor="middle" font-weight="normal" fill="#111" stroke="#111" stroke-width="0.05">†</text>
<text transform="translate(224.80,325.00) scale(1.18,1)" font-size="9.2" text-anchor="middle" font-weight="normal" fill="#111" stroke="#111" stroke-width="0.05">‡</text>
<text transform="translate(230.80,325.00) scale(1.18,1)" font-size="9.2" text-anchor="middle" font-weight="normal" fill="#111" stroke="#111" stroke-width="0.05">‡</text>
<text transform="translate(269.20,339.10) scale(1.18,1)" font-size="9.2" text-anchor="middle" font-weight="normal" fill="#111" stroke="#111" stroke-width="0.05">†</text>
<text transform="translate(275.20,339.10) scale(1.18,1)" font-size="9.2" text-anchor="middle" font-weight="normal" fill="#111" stroke="#111" stroke-width="0.05">†</text>
<text transform="translate(269.20,348.80) scale(1.18,1)" font-size="9.2" text-anchor="middle" font-weight="normal" fill="#111" stroke="#111" stroke-width="0.05">‡</text>
<text transform="translate(275.20,348.80) scale(1.18,1)" font-size="9.2" text-anchor="middle" font-weight="normal" fill="#111" stroke="#111" stroke-width="0.05">‡</text>
<text transform="translate(316.60,354.10) scale(1.18,1)" font-size="9.2" text-anchor="middle" font-weight="normal" fill="#111" stroke="#111" stroke-width="0.05">†</text>
<text transform="translate(316.60,363.80) scale(1.18,1)" font-size="9.2" text-anchor="middle" font-weight="normal" fill="#111" stroke="#111" stroke-width="0.05">‡</text>
<text transform="translate(358.00,375.30) scale(1.18,1)" font-size="9.2" text-anchor="middle" font-weight="normal" fill="#111" stroke="#111" stroke-width="0.05">†</text>
<text transform="translate(364.00,375.30) scale(1.18,1)" font-size="9.2" text-anchor="middle" font-weight="normal" fill="#111" stroke="#111" stroke-width="0.05">†</text>
<text transform="translate(402.40,377.70) scale(1.18,1)" font-size="9.2" text-anchor="middle" font-weight="normal" fill="#111" stroke="#111" stroke-width="0.05">†</text>
<text transform="translate(408.40,377.70) scale(1.18,1)" font-size="9.2" text-anchor="middle" font-weight="normal" fill="#111" stroke="#111" stroke-width="0.05">†</text>
<text transform="translate(402.40,386.90) scale(1.18,1)" font-size="9.2" text-anchor="middle" font-weight="normal" fill="#111" stroke="#111" stroke-width="0.05">‡</text>
<text transform="translate(408.40,386.90) scale(1.18,1)" font-size="9.2" text-anchor="middle" font-weight="normal" fill="#111" stroke="#111" stroke-width="0.05">‡</text>
<text transform="translate(446.80,393.30) scale(1.18,1)" font-size="9.2" text-anchor="middle" font-weight="normal" fill="#111" stroke="#111" stroke-width="0.05">†</text>
<text transform="translate(452.80,393.30) scale(1.18,1)" font-size="9.2" text-anchor="middle" font-weight="normal" fill="#111" stroke="#111" stroke-width="0.05">†</text>
<text transform="translate(446.80,402.20) scale(1.18,1)" font-size="9.2" text-anchor="middle" font-weight="normal" fill="#111" stroke="#111" stroke-width="0.05">‡</text>
<text transform="translate(452.80,402.20) scale(1.18,1)" font-size="9.2" text-anchor="middle" font-weight="normal" fill="#111" stroke="#111" stroke-width="0.05">‡</text>
<text transform="translate(491.20,418.80) scale(1.18,1)" font-size="9.2" text-anchor="middle" font-weight="normal" fill="#111" stroke="#111" stroke-width="0.05">†</text>
<text transform="translate(497.20,418.80) scale(1.18,1)" font-size="9.2" text-anchor="middle" font-weight="normal" fill="#111" stroke="#111" stroke-width="0.05">†</text>
</svg></body></html>
